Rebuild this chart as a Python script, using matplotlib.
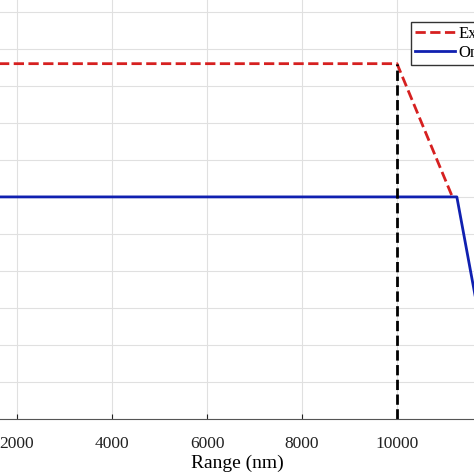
import matplotlib
matplotlib.use("Agg")
import matplotlib.pyplot as plt

red_x = [1500, 10000, 11150]
red_y = [9.6, 9.6, 6.05]
blue_x = [1500, 11260, 11620, 11800]
blue_y = [6.0, 6.0, 3.5, 2.25]
vline_x = 10000
vline_top = 9.6
xticks = [2000, 4000, 6000, 8000, 10000]

plt.rcParams['font.family'] = ['Liberation Serif', 'DejaVu Serif']
fig = plt.figure(figsize=(4.74, 4.74), dpi=100)
ax = fig.add_axes([0, 55/474, 1, 419/474])
ax.plot(red_x, red_y, '--', color='#d62020', lw=2, label='Expected')
ax.plot(blue_x, blue_y, '-', color='#1020b0', lw=2, label='Omnidirectional')
ax.plot([vline_x, vline_x], [0, vline_top], '--', color='black', lw=2)
ax.set_xlim(1642, 11621)
ax.set_ylim(0, 11.32)
ax.set_xticks(xticks)
ax.set_yticks([i for i in range(0, 12)])
ax.set_yticklabels([])
ax.tick_params(axis='x', direction='in', labelsize=12.5, pad=12, colors='#222222')
ax.tick_params(axis='y', length=0)
ax.grid(True, color='#e0e0e0', lw=0.8)
for s in ['left', 'right', 'top']:
    ax.spines[s].set_visible(False)
ax.spines['bottom'].set_color('#555555')
ax.set_xlabel('Range (nm)', fontsize=14, labelpad=2)
fig.legend(loc='upper left', bbox_to_anchor=(411/474, 1 - 22/474), fontsize=12,
           fancybox=False, edgecolor='#333333', framealpha=1, borderpad=0.25,
           borderaxespad=0, handlelength=2.4, handletextpad=0.2, labelspacing=0.15)
fig.savefig('out.png', dpi=100)
